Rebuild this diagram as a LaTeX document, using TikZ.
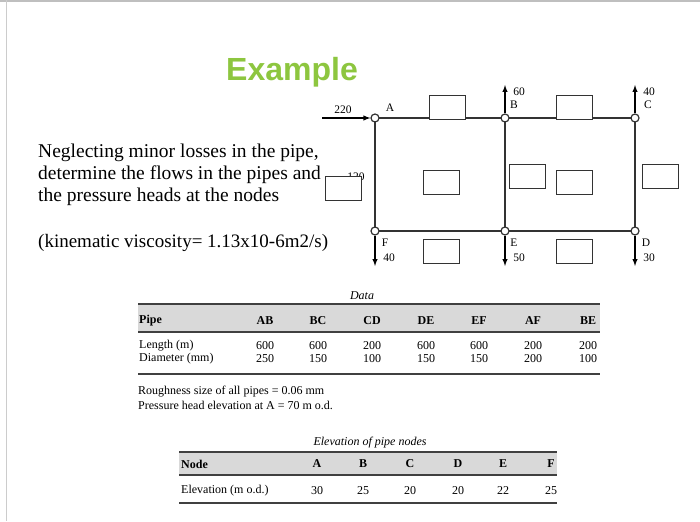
\documentclass[tikz,border=0pt]{standalone}
\usepackage{fontspec}
\setmainfont{Liberation Serif}
\newfontfamily\titlefont{Liberation Sans}
\definecolor{titlegreen}{HTML}{8DC63F}
\begin{document}
\begin{tikzpicture}[x=1pt,y=-1pt,
  pipe/.style={line width=1.6pt,black!80},
  junc/.style={circle,draw=black!80,line width=1.2pt,fill=white,inner sep=0pt,minimum size=8pt},
  flow/.style={line width=1.4pt,-latex},
  lbl/.style={font=\fontsize{11.5}{12}\selectfont,inner sep=1pt},
  blank/.style={draw=black!80,fill=white,line width=0.7pt,minimum width=36pt,minimum height=24pt,inner sep=0pt},
  tb/.style={font=\fontsize{12}{13}\selectfont,inner sep=0pt},
  tbb/.style={font=\fontsize{12}{13}\selectfont\bfseries,inner sep=0pt},
  rule/.style={line width=1.4pt,black!75}]
\useasboundingbox (0,0) rectangle (700,521);
\fill[white] (0,0) rectangle (700,521);
\draw[black!25,line width=1.5pt] (0,1) -- (700,1);
\draw[black!20,line width=1pt] (6,0) -- (6,521);
% title and text
\node[font=\titlefont\fontsize{32}{34}\selectfont\bfseries,text=titlegreen] (title) at (292,72) {Example};
\node[font=\fontsize{19.5}{22}\selectfont,align=left,anchor=north west,inner sep=0pt] (txt) at (38,144) {Neglecting minor losses in the pipe,\\determine the flows in the pipes and\\the pressure heads at the nodes};
\node[font=\fontsize{19}{20}\selectfont,anchor=west,inner sep=0pt] (visc) at (38,243) {(kinematic viscosity= 1.13x10-6m2/s)};
% network
\coordinate (A) at (375,118); \coordinate (B) at (505,118); \coordinate (C) at (635,118);
\coordinate (F) at (375,231); \coordinate (E) at (505,231); \coordinate (D) at (635,231);
\draw[pipe] (A) -- (B) -- (C) -- (D) -- (E) -- (F) -- cycle;
\draw[pipe] (B) -- (E);
\foreach \n in {A,B,C,D,E,F} \node[junc] (j\n) at (\n) {};
\coordinate (in) at (322,118);
\draw[flow] (in) -- (jA.west);
\node[lbl] (l220) at (343,110) {220};
\coordinate (outB) at (505,85); \coordinate (outC) at (635,85);
\coordinate (outF) at (375,266); \coordinate (outE) at (505,266); \coordinate (outD) at (635,266);
\draw[flow] (jB) -- (outB); \draw[flow] (jC) -- (outC);
\draw[flow] (jF) -- (outF); \draw[flow] (jE) -- (outE); \draw[flow] (jD) -- (outD);
\node[lbl] (nA) at (390,108) {A};
\node[lbl] (nB) at (514,105) {B}; \node[lbl] (q60) at (519,92) {60};
\node[lbl] (nC) at (648,105) {C}; \node[lbl] (q40c) at (649,92) {40};
\node[lbl] (nF) at (385,243) {F}; \node[lbl] (q40f) at (389,258) {40};
\node[lbl] (nE) at (514,243) {E}; \node[lbl] (q50) at (519,258) {50};
\node[lbl] (nD) at (646,243) {D}; \node[lbl] (q30) at (649,258) {30};
\node[lbl] (h120) at (356,177) {120};
% blank boxes
\node[blank] (bAB) at (447,107) {};
\node[blank] (bBC) at (574,107) {};
\node[blank] (bL) at (343,188) {};
\node[blank] (bAF) at (441,182) {};
\node[blank] (bBE) at (527,176) {};
\node[blank] (bM) at (574,182) {};
\node[blank] (bCD) at (660,176) {};
\node[blank] (bFE) at (441,251) {};
\node[blank] (bED) at (574,251) {};
% table 1
\node[tb,font=\fontsize{12}{13}\selectfont\itshape] (t1) at (362,296) {Data};
\fill[black!15] (138,305) rectangle (600,331);
\draw[rule] (138,304) -- (600,304);
\draw[rule] (138,332) -- (600,332);
\draw[rule] (138,374) -- (600,374);
\node[tbb,anchor=west] (hp) at (139,321) {Pipe};
\node[tb,anchor=west] (rl) at (139,346) {Length (m)};
\node[tb,anchor=west] (rd) at (139,359) {Diameter (mm)};
\foreach \x/\p/\l/\d in {265/AB/600/250,318/BC/600/150,372/CD/200/100,426/DE/600/150,479/EF/600/150,533/AF/200/200,588/BE/200/100}{
  \node[tbb] at (\x,321) {\p};
  \node[tb] at (\x,346) {\l};
  \node[tb] at (\x,359) {\d};}
\node[tb,anchor=west] (n1) at (138,392) {Roughness size of all pipes = 0.06 mm};
\node[tb,anchor=west] (n2) at (138,405) {Pressure head elevation at A = 70 m o.d.};
% table 2
\node[tb,font=\fontsize{12}{13}\selectfont\itshape] (t2) at (370,443) {Elevation of pipe nodes};
\fill[black!15] (179,453) rectangle (557,474);
\draw[rule] (179,452) -- (557,452);
\draw[rule] (179,475) -- (557,475);
\draw[rule] (179,503) -- (557,503);
\node[tbb,anchor=west] (hn) at (181,464) {Node};
\node[tb,anchor=west] (he) at (181,491) {Elevation (m o.d.)};
\foreach \x/\n/\e in {317/A/30,363/B/25,410/C/20,458/D/20,503/E/22,551/F/25}{
  \node[tbb] at (\x,464) {\n};
  \node[tb] at (\x,491) {\e};}
\end{tikzpicture}
\end{document}
